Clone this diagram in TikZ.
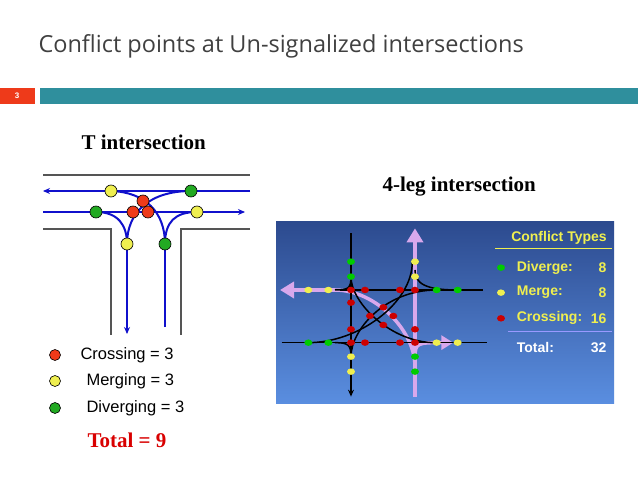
\documentclass[tikz,border=0pt]{standalone}
\usepackage{fontspec}
\setsansfont{Liberation Sans}
\newfontfamily\tnr{Liberation Serif}
\newfontfamily\hdr{Open Sans}
\usetikzlibrary{arrows.meta,shapes.geometric}
\definecolor{teal1}{HTML}{2F8F9D}
\definecolor{road}{HTML}{555555}
\definecolor{lane}{HTML}{1010CC}
\definecolor{pinkl}{HTML}{D8A8EC}
\definecolor{ylw}{HTML}{EFEF50}
\definecolor{cred}{HTML}{EE3A1A}
\definecolor{cgrn}{HTML}{22AA22}
\definecolor{bgtop}{HTML}{2C4A8E}
\definecolor{bgbot}{HTML}{5A8EE0}
\tikzset{
 roadl/.style={road,line width=2pt},
 lanel/.style={lane,line width=2pt},
 lanea/.style={lanel,-{Stealth[length=7pt,width=6pt]}},
 dotc/.style={circle,draw=black,inner sep=0pt,minimum size=12pt,line width=0.6pt},
 blk/.style={black,line width=1.5pt},
 pk/.style={pinkl,line width=3.5pt},
 sd/.style={ellipse,inner sep=0pt,minimum width=8pt,minimum height=6.5pt},
 lg/.style={font=\sffamily\bfseries\fontsize{14}{15}\selectfont,anchor=west},
 tl/.style={anchor=west,font=\sffamily\fontsize{16.5}{18}\selectfont},
}
\begin{document}
\begin{tikzpicture}[x=1pt,y=-1pt]
\useasboundingbox[fill=white] (0,0) rectangle (638,479);
\node[anchor=west,text=black!75,font=\hdr\fontsize{23.5}{26}\selectfont] (title) at (35,46) {Conflict points at Un-signalized intersections};
\fill[cred] (0,88) rectangle (35,104);
\node[text=white,font=\sffamily\bfseries\fontsize{8}{9}\selectfont] (num) at (17,96) {3};
\fill[teal1] (40,88) rectangle (638,104);
\node[anchor=west,font=\tnr\bfseries\fontsize{21}{23}\selectfont] (tt) at (78,142) {T intersection};
\node[anchor=west,font=\tnr\bfseries\fontsize{21}{23}\selectfont] (ft) at (379,187) {4-leg intersection};
% T intersection
\draw[roadl] (43,175) -- (250,175);
\draw[roadl] (43,229) -- (111,229) -- (111,335);
\draw[roadl] (250,229) -- (181,229) -- (181,335);
\coordinate (wE) at (250,191); \coordinate (wW) at (43,191);
\coordinate (eW) at (43,212); \coordinate (eE) at (245,212);
\coordinate (sB) at (127,334);
\coordinate (nB) at (165,327); \coordinate (nT) at (165,244);
\draw[lanea] (wE) -- (wW);
\draw[lanea] (eW) -- (eE);
\draw[lanea] (127,240) -- (sB);
\draw[lanel] (nB) -- (nT);
\draw[lanel] (191,191) .. controls (150,191) and (127,212) .. (127,244);
\draw[lanel] (165,244) .. controls (165,212) and (145,192) .. (111,191);
\draw[lanel] (165,244) .. controls (165,222) and (175,212) .. (197,212);
\draw[lanel] (96,212) .. controls (118,212) and (127,225) .. (127,244);
\node[dotc,fill=ylw] (y1) at (111,191) {};
\node[dotc,fill=cgrn] (g1) at (191,191) {};
\node[dotc,fill=cred] (r1) at (143,201) {};
\node[dotc,fill=cgrn] (g2) at (96,212) {};
\node[dotc,fill=cred] (r2) at (133,212) {};
\node[dotc,fill=cred] (r3) at (148,212) {};
\node[dotc,fill=ylw] (y2) at (197,212) {};
\node[dotc,fill=ylw] (y3) at (127,244) {};
\node[dotc,fill=cgrn] (g3) at (165,244) {};
% legend
\node[dotc,fill=cred,minimum size=11pt] (lr) at (55,355) {};
\node[dotc,fill=ylw,minimum size=11pt] (ly) at (55,381) {};
\node[dotc,fill=cgrn,minimum size=11pt] (lgr) at (55,408) {};
\node[tl] (t1) at (77,355) {Crossing = 3};
\node[tl] (t2) at (83,381) {Merging = 3};
\node[tl] (t3) at (83,408) {Diverging = 3};
\node[anchor=west,text=red!85!black,font=\tnr\bfseries\fontsize{21}{23}\selectfont] (tot) at (84,440) {Total = 9};
% 4-leg panel
\shade[top color=bgtop, bottom color=bgbot] (276,221) rectangle (614,403);
\begin{scope}[shift={(275,220)},x=0.3333pt,y=-0.3333pt]
\draw[pk,-{Triangle[length=14pt,width=16pt]}] (420,530) -- (420,25);
\draw[pk,-{Triangle[length=14pt,width=16pt]}] (180,210) -- (15,210);
\draw[pk] (180,210) .. controls (300,210) and (420,330) .. (420,440);
\draw[pk,-{Triangle[length=12pt,width=14pt]}] (420,410) .. controls (420,368) and (430,368) .. (535,368);
\draw[blk,-{Stealth[length=7pt,width=6pt]}] (228,40) -- (228,530);
\draw[blk] (195,210) -- (625,210);
\draw[blk] (20,368) -- (635,368);
\draw[blk] (485,210) .. controls (330,210) and (228,330) .. (228,410);
\draw[blk] (100,368) .. controls (250,368) and (412,250) .. (412,125);
\draw[blk] (228,170) .. controls (228,250) and (350,368) .. (480,368);
\draw[blk] (228,170) .. controls (228,205) and (220,210) .. (180,210);
\draw[blk] (228,410) .. controls (228,375) and (220,368) .. (180,368);
\draw[blk] (548,210) .. controls (450,210) and (420,190) .. (420,150);
\foreach \p in {(228,125),(228,170),(485,210),(548,210),(100,368),(160,368),(420,410),(420,455)}
  \node[sd,fill=green!80!black] at \p {};
\foreach \p in {(420,125),(420,170),(100,210),(160,210),(485,368),(548,368),(228,410),(228,455)}
  \node[sd,fill=ylw] at \p {};
\foreach \p in {(228,210),(270,210),(375,210),(420,210),(228,248),(325,262),(285,288),(355,288),(325,315),(228,328),(420,328),(228,368),(270,368),(375,368),(420,368)}
  \node[sd,fill=red!80!black] at \p {};
\node[text=ylw,font=\sffamily\bfseries\fontsize{14}{15}\selectfont] (ct) at (852,55) {Conflict Types};
\draw[ylw,line width=1pt] (660,85) -- (1010,85);
\node[sd,fill=green!80!black] (d1) at (678,143) {};
\node[sd,fill=ylw] (d2) at (678,218) {};
\node[sd,fill=red!80!black] (d3) at (678,295) {};
\node[lg,text=ylw] (a1) at (715,143) {Diverge:};
\node[lg,text=ylw] (a2) at (715,218) {Merge:};
\node[lg,text=ylw] (a3) at (715,295) {Crossing:};
\node[lg,text=white] (a4) at (715,383) {Total:};
\node[lg,anchor=east,text=ylw] (b1) at (1005,143) {8};
\node[lg,anchor=east,text=ylw] (b2) at (1005,218) {8};
\node[lg,anchor=east,text=ylw] (b3) at (1005,295) {16};
\node[lg,anchor=east,text=white] (b4) at (1005,383) {32};
\draw[white!60!blue,line width=0.5pt] (700,333) -- (1010,333);
\end{scope}
\end{tikzpicture}
\end{document}
